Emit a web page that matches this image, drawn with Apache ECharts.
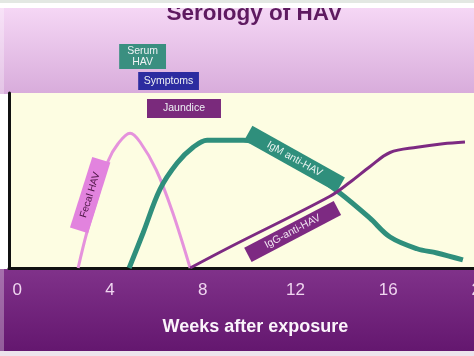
<!DOCTYPE html>
<html>
<head>
<meta charset="utf-8">
<script src="https://cdn.jsdelivr.net/npm/echarts@6/dist/echarts.min.js"></script>
<style>html,body{margin:0;padding:0;background:#fff}#c{width:474px;height:356px}</style>
</head>
<body>
<div id="c"></div>
<script>
// ---- data ----
const xTickLabels = [0, 4, 8, 12, 16, 20];

const weeksFecal = [2.63, 3.0, 3.5, 3.92, 4.35, 4.87, 5.3, 6.0, 6.7, 7.46];
const fecalHAV   = [0, 20, 42, 61, 71, 77, 72, 56, 32, 0];

const weeksIgM   = [4.83, 5.43, 6.16, 6.9, 7.59, 8.19, 9.74, 10.69, 12.2, 13.9, 15.2, 16.08, 17.24, 18.1, 19.22];
const igmAntiHAV = [0, 20, 45, 60, 69, 73, 73, 70, 59, 43, 28.6, 17.7, 11, 8.6, 4.6];

const weeksIgG   = [7.46, 9.18, 13.49, 14.35, 15.22, 16.08, 17.24, 18.36, 19.31];
const iggAntiHAV = [0, 12, 41, 49, 58, 66, 69, 71, 72];

const periodNames = ['Serum\nHAV', 'Symptoms', 'Jaundice'];
const periodStart = [4.40, 5.22, 5.60];
const periodEnd   = [6.42, 7.84, 8.79];

// ---- styling ----
const periodColors = ['#3a8f80', '#2c2ca0', '#7a2a7c'];
const periodLanes = [[4, 29], [32, 50], [59, 78]];
const FONT = 'Liberation Sans, Arial, sans-serif';
const X_MIN = -0.35, X_MAX = 20.13;

const pairs = (xs, ys) => xs.map((x, i) => [x, ys[i]]);

const chart = echarts.init(document.getElementById('c'), null, {renderer: 'canvas'});
chart.setOption({
  animation: false,
  backgroundColor: '#ffffff',
  graphic: [
    {type: 'rect', shape: {x: 0, y: 8, width: 474, height: 86}, z: -10,
     style: {fill: new echarts.graphic.LinearGradient(0, 0, 0, 1, [{offset: 0, color: '#f5d7f5'}, {offset: 1, color: '#d8acdb'}])}},
    {type: 'rect', shape: {x: 0, y: 269, width: 474, height: 82}, z: -10,
     style: {fill: new echarts.graphic.LinearGradient(0, 0, 0, 1, [{offset: 0, color: '#80328a'}, {offset: 1, color: '#64176f'}])}},
    {type: 'rect', shape: {x: 0, y: 8, width: 4, height: 343}, z: 50, style: {fill: 'rgba(255,255,255,0.3)'}},
    {type: 'text', x: 254.5, y: 14, z: 40,
     style: {text: 'Serology of HAV', font: 'bold 22.5px ' + FONT, fill: '#5e1a60', textAlign: 'center', textVerticalAlign: 'middle'}},
    {type: 'rect', shape: {x: 0, y: 3, width: 474, height: 5}, z: 60, style: {fill: '#ffffff'}},
    {type: 'rect', shape: {x: 0, y: 0, width: 474, height: 3}, z: 60, style: {fill: '#e3e8e3'}},
    {type: 'rect', shape: {x: 0, y: 351, width: 474, height: 5}, z: 60, style: {fill: '#ece4ec'}},
    {type: 'text', x: 255.5, y: 327, z: 40,
     style: {text: 'Weeks after exposure', font: 'bold 18px ' + FONT, fill: '#fbf4fb', textAlign: 'center', textVerticalAlign: 'middle'}}
  ],
  grid: [
    {left: 9, right: -10, top: 93, bottom: 88, show: true, backgroundColor: '#fdfde2', borderWidth: 0, outerBoundsMode: 'none', containLabel: false},
    {left: 9, right: -10, top: 40, height: 80, show: false, outerBoundsMode: 'none', containLabel: false}
  ],
  xAxis: [
    {type: 'value', gridIndex: 0, min: X_MIN, max: X_MAX,
     axisLine: {show: true, onZero: false, lineStyle: {color: '#111', width: 3}},
     axisTick: {show: false}, splitLine: {show: false},
     axisLabel: {customValues: xTickLabels, margin: 14, color: '#f0d6f0', fontSize: 17, fontFamily: FONT}},
    {type: 'value', gridIndex: 1, min: X_MIN, max: X_MAX, show: false}
  ],
  yAxis: [
    {type: 'value', gridIndex: 0, min: 0, max: 100,
     axisLine: {show: true, onZero: false, lineStyle: {color: '#111', width: 3}},
     axisTick: {show: false}, axisLabel: {show: false}, splitLine: {show: false}},
    {type: 'value', gridIndex: 1, min: 0, max: 80, inverse: true, show: false}
  ],
  series: [
    {type: 'line', name: 'Fecal HAV', xAxisIndex: 0, yAxisIndex: 0, data: pairs(weeksFecal, fecalHAV),
     smooth: 0.35, symbol: 'none', lineStyle: {color: '#e592dc', width: 3}, z: 3,
     markPoint: {silent: true, symbol: 'rect', data: [
       {coord: [3.15, 41.7], symbolSize: [74, 19], symbolRotate: 72.5, itemStyle: {color: '#e283de'},
        label: {show: true, position: 'inside', formatter: 'Fecal HAV', rotate: 72.5, color: '#4a1442', fontSize: 10, fontFamily: FONT}}
     ]}},
    {type: 'line', name: 'IgM anti-HAV', xAxisIndex: 0, yAxisIndex: 0, data: pairs(weeksIgM, igmAntiHAV),
     smooth: 0.35, symbol: 'none', lineStyle: {color: '#2f8f7c', width: 5}, z: 4,
     markPoint: {silent: true, symbol: 'rect', data: [
       {coord: [11.96, 62.3], symbolSize: [106, 17], symbolRotate: -29.2, itemStyle: {color: '#2f8f7c'},
        label: {show: true, position: 'inside', formatter: 'IgM anti-HAV', rotate: -29.2, color: '#e6f2ee', fontSize: 10.5, fontFamily: FONT}}
     ]}},
    {type: 'line', name: 'IgG-anti-HAV', xAxisIndex: 0, yAxisIndex: 0, data: pairs(weeksIgG, iggAntiHAV),
     smooth: 0.35, symbol: 'none', lineStyle: {color: '#7d2a82', width: 3}, z: 5,
     markPoint: {silent: true, symbol: 'rect', data: [
       {coord: [11.88, 20.9], symbolSize: [101, 16], symbolRotate: 27.6, itemStyle: {color: '#7d2a82'},
        label: {show: true, position: 'inside', formatter: 'IgG-anti-HAV', rotate: 27.6, color: '#f0e4f0', fontSize: 10.5, fontFamily: FONT}}
     ]}},
    {type: 'custom', xAxisIndex: 1, yAxisIndex: 1, z: 10, clip: false,
     data: periodStart.map((s, i) => [s, periodEnd[i], i]),
     encode: {x: [0, 1]},
     renderItem: function (params, api) {
       const i = api.value(2);
       const a = api.coord([api.value(0), 0]);
       const b = api.coord([api.value(1), 0]);
       const y0 = api.coord([0, periodLanes[i][0]])[1];
       const y1 = api.coord([0, periodLanes[i][1]])[1];
       return {
         type: 'rect',
         shape: {x: a[0], y: y0, width: b[0] - a[0], height: y1 - y0},
         style: {fill: periodColors[i]},
         textContent: {style: {text: periodNames[i], fill: '#eef2f4', font: '10.5px ' + FONT, align: 'center', lineHeight: 11}},
         textConfig: {position: 'inside'}
       };
     }}
  ]
});
</script>
</body>
</html>
